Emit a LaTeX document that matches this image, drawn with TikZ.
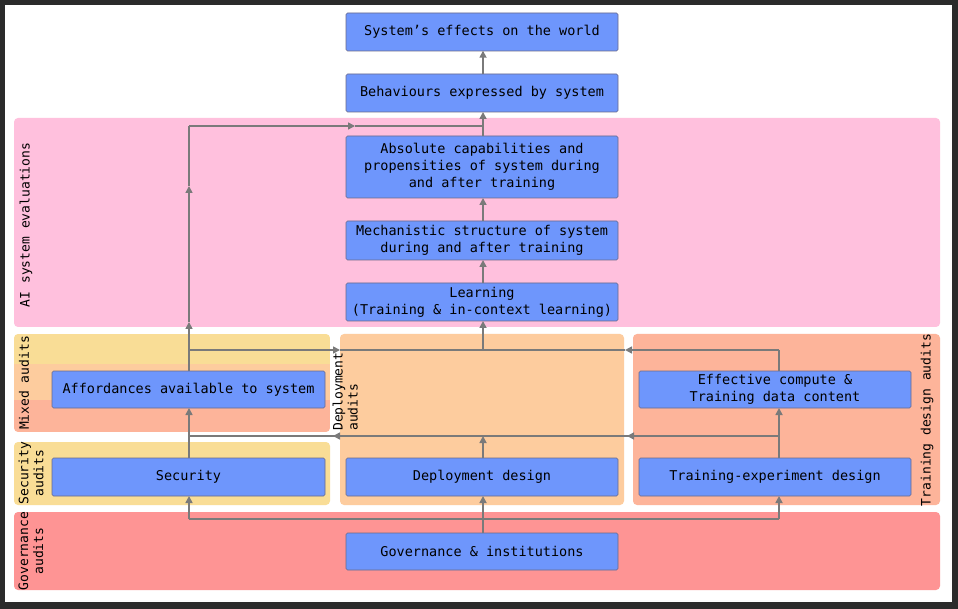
\documentclass[tikz,border=0pt]{standalone}
\usepackage{fontspec}
\setmainfont{DejaVu Sans Mono}
\usetikzlibrary{arrows.meta}
\definecolor{pinkr}{HTML}{FFC0DD}
\definecolor{yel}{HTML}{F9DD96}
\definecolor{ora}{HTML}{FDCC9E}
\definecolor{sal}{HTML}{FDB49A}
\definecolor{redr}{HTML}{FE9494}
\definecolor{blu}{HTML}{6E96FC}
\definecolor{edg}{HTML}{6A6A8A}
\definecolor{arr}{HTML}{7A7A7A}
\begin{document}
\begin{tikzpicture}[x=1pt,y=-1pt,
  box/.style={draw=edg,fill=blu,rounded corners=1.5pt,line width=0.6pt,inner sep=0pt,
    font=\fontsize{13.5}{17}\selectfont,align=center},
  reg/.style={rounded corners=4pt},
  lab/.style={rotate=90,font=\fontsize{13}{15}\selectfont,align=center,inner sep=0pt},
  ar/.style={draw=arr,line width=1.6pt,-{Triangle[length=7pt,width=7pt]}},
  ln/.style={draw=arr,line width=1.6pt}]
\fill[black!83] (0,0) rectangle (958,609);
\fill[white] (5,5) rectangle (952,602);
\useasboundingbox (0,0) rectangle (958,609);
% regions
\fill[pinkr,reg] (14,118) rectangle (940,327);
\begin{scope}
\clip[reg] (14,334) rectangle (330,432);
\fill[yel] (14,334) rectangle (330,364);
\fill[ora] (14,364) rectangle (330,400);
\fill[sal] (14,400) rectangle (330,432);
\end{scope}
\fill[yel,reg] (14,442) rectangle (330,505);
\fill[ora,reg] (340,334) rectangle (624,505);
\fill[sal,reg] (633,334) rectangle (940,505);
\fill[redr,reg] (14,512) rectangle (940,590);
% region labels
\node[lab] (lai) at (26,225) {AI system evaluations};
\node[lab] (lmx) at (24,383) {Mixed audits};
\node[lab] (lsec) at (31,473) {Security\\audits};
\node[lab] (lgov) at (31,551) {Governance\\audits};
\node[lab,anchor=south west,align=left] (ldep) at (358,431) {Deployment\\audits};
\node[lab] (ltr) at (927,420) {Training design audits};
% nodes
\node[box,minimum width=272pt,minimum height=38pt] (eff) at (482,32) {System’s effects on the world};
\node[box,minimum width=272pt,minimum height=38pt] (beh) at (482,93) {Behaviours expressed by system};
\node[box,minimum width=272pt,minimum height=62pt] (abs) at (482,167) {Absolute capabilities and\\propensities of system during\\and after training};
\node[box,minimum width=272pt,minimum height=39pt] (mech) at (482,240.5) {Mechanistic structure of system\\during and after training};
\node[box,minimum width=272pt,minimum height=38pt] (learn) at (482,302) {Learning\\(Training \& in-context learning)};
\node[box,minimum width=273pt,minimum height=37pt] (aff) at (188.5,389.5) {Affordances available to system};
\node[box,minimum width=272pt,minimum height=37pt] (ec) at (775,389.5) {Effective compute \&\\Training data content};
\node[box,minimum width=273pt,minimum height=38pt] (sec) at (188.5,477) {Security};
\node[box,minimum width=272pt,minimum height=38pt] (dep) at (482,477) {Deployment design};
\node[box,minimum width=272pt,minimum height=38pt] (tex) at (775,477) {Training-experiment design};
\node[box,minimum width=272pt,minimum height=37pt] (gov) at (482,551.5) {Governance \& institutions};
% coordinates
\coordinate (g1) at (483,519);
\coordinate (gl) at (189,519);
\coordinate (gr) at (779,519);
\coordinate (m1) at (189,436);
\coordinate (m2) at (779,436);
\coordinate (u1) at (189,350);
\coordinate (u2) at (483,350);
\coordinate (u3) at (779,350);
\coordinate (t1) at (189,126);
\coordinate (t2) at (483,126);
% connectors
\draw[ar] (eff.south |- beh.north) ++(1,0) -- ++(0,-23);
\draw[ar] (483,136) -- (483,112);
\draw[ar] (483,221) -- (483,198);
\draw[ar] (483,283) -- (483,260);
% governance
\draw[ln] (483,533) -- (g1);
\draw[ar] (g1) -- (483,496);
\draw[ln] (gl) -- (gr);
\draw[ar] (gl) -- (189,496);
\draw[ar] (gr) -- (779,496);
% security / training to middle line
\draw[ar] (189,458) -- (189,408);
\draw[ar] (779,458) -- (779,408);
\draw[ar] (483,458) -- (483,436);
\draw[ln] (m2) -- (m1);
\draw[ar] (m2) -- (627,436);
\draw[ar] (627,436) -- (333,436);
% upper line
\draw[ln] (189,371) -- (u1);
\draw[ar] (u1) -- (340,350);
\draw[ln] (340,350) -- (u2);
\draw[ln] (779,371) -- (u3);
\draw[ar] (u3) -- (625,350);
\draw[ln] (625,350) -- (u2);
\draw[ar] (u2) -- (483,321);
% affordances to top
\draw[ar] (u1) -- (189,322);
\draw[ar] (189,322) -- (189,186);
\draw[ln] (189,186) -- (t1);
\draw[ar] (t1) -- (355,126);
\draw[ln] (355,126) -- (t2);
\end{tikzpicture}
\end{document}
